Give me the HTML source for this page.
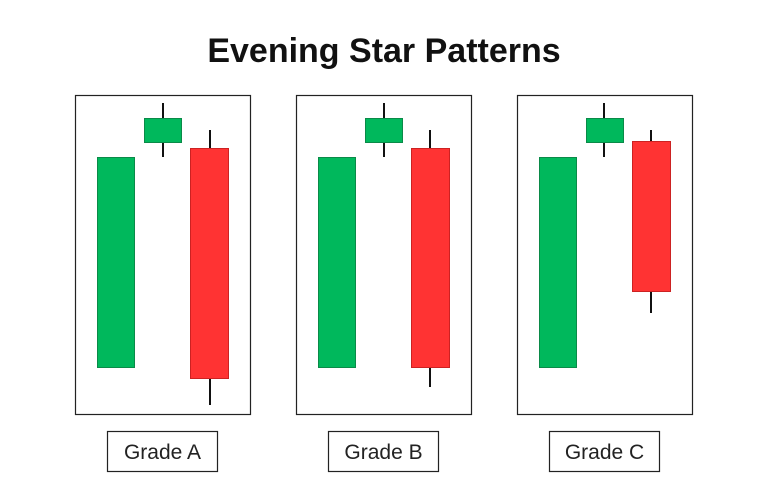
<!DOCTYPE html><html><head><style>body{margin:0;background:#fff}</style></head><body>
<svg width="768" height="497" xmlns="http://www.w3.org/2000/svg" font-family="Liberation Sans, sans-serif">
<rect width="768" height="497" fill="#fff"/>
<text x="384" y="62" text-anchor="middle" font-size="34" font-weight="bold" fill="#111">Evening Star Patterns</text>
<g stroke="#222" stroke-width="1.2" fill="none">
<rect x="75.5" y="95.5" width="175" height="319"/>
<rect x="296.5" y="95.5" width="175" height="319"/>
<rect x="517.5" y="95.5" width="175" height="319"/>
<rect x="107.5" y="431.5" width="110" height="40"/>
<rect x="328.5" y="431.5" width="110" height="40"/>
<rect x="549.5" y="431.5" width="110" height="40"/>
</g>
<g stroke="#111" stroke-width="2">
<line x1="163" y1="103" x2="163" y2="157"/><line x1="210" y1="130" x2="210" y2="405"/>
<line x1="384" y1="103" x2="384" y2="157"/><line x1="430" y1="130" x2="430" y2="387"/>
<line x1="604" y1="103" x2="604" y2="157"/><line x1="651" y1="130" x2="651" y2="313"/>
</g>
<g fill="#00b85c" stroke="#0a8a48" stroke-width="1">
<rect x="97.5" y="157.5" width="37" height="210"/><rect x="144.5" y="118.5" width="37" height="24"/>
<rect x="318.5" y="157.5" width="37" height="210"/><rect x="365.5" y="118.5" width="37" height="24"/>
<rect x="539.5" y="157.5" width="37" height="210"/><rect x="586.5" y="118.5" width="37" height="24"/>
</g>
<g fill="#ff3333" stroke="#c22" stroke-width="1">
<rect x="190.5" y="148.5" width="38" height="230"/>
<rect x="411.5" y="148.5" width="38" height="219"/>
<rect x="632.5" y="141.5" width="38" height="150"/>
</g>
<g font-size="21" fill="#222" text-anchor="middle">
<text x="162.5" y="459">Grade A</text><text x="383.5" y="459">Grade B</text><text x="604.5" y="459">Grade C</text>
</g>
</svg></body></html>
